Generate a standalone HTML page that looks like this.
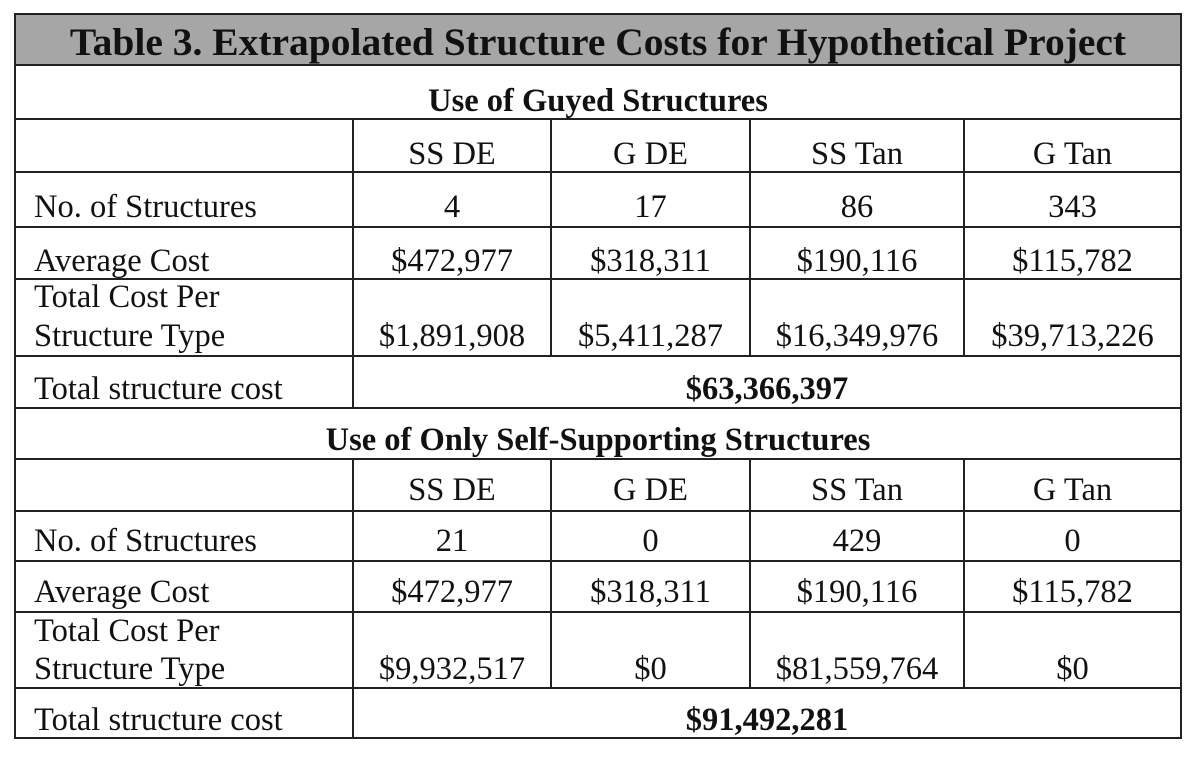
<!DOCTYPE html>
<html><head><style>
body{margin:0;width:1200px;height:764px;background:#fff;position:relative;overflow:hidden;font-family:"Liberation Serif",serif;color:#111}
.h{position:absolute;height:2px;background:#222}
.v{position:absolute;width:2px;background:#222}
.t{position:absolute;font-size:32.5px;line-height:30px;white-space:nowrap}
.c{text-align:center}
.b{font-weight:bold}
</style></head><body>
<div style="position:absolute;left:15px;top:14px;width:1166px;height:50px;background:#a6a6a6"></div>
<div class="h" style="left:15px;top:13px;width:1167px"></div>
<div class="h" style="left:15px;top:64px;width:1167px"></div>
<div class="h" style="left:15px;top:118px;width:1167px"></div>
<div class="h" style="left:15px;top:171px;width:1167px"></div>
<div class="h" style="left:15px;top:226px;width:1167px"></div>
<div class="h" style="left:15px;top:278px;width:1167px"></div>
<div class="h" style="left:15px;top:355px;width:1167px"></div>
<div class="h" style="left:15px;top:407px;width:1167px"></div>
<div class="h" style="left:15px;top:458px;width:1167px"></div>
<div class="h" style="left:15px;top:510px;width:1167px"></div>
<div class="h" style="left:15px;top:560px;width:1167px"></div>
<div class="h" style="left:15px;top:611px;width:1167px"></div>
<div class="h" style="left:15px;top:687px;width:1167px"></div>
<div class="h" style="left:15px;top:737px;width:1167px"></div>
<div class="v" style="left:14px;top:13px;height:726px"></div>
<div class="v" style="left:1180px;top:13px;height:726px"></div>
<div class="v" style="left:352px;top:118px;height:289px"></div>
<div class="v" style="left:550px;top:118px;height:237px"></div>
<div class="v" style="left:749px;top:118px;height:237px"></div>
<div class="v" style="left:963px;top:118px;height:237px"></div>
<div class="v" style="left:352px;top:458px;height:280px"></div>
<div class="v" style="left:550px;top:458px;height:229px"></div>
<div class="v" style="left:749px;top:458px;height:229px"></div>
<div class="v" style="left:963px;top:458px;height:229px"></div>

<div class="t c b" style="left:15px;width:1166px;top:21px;font-size:39.5px;line-height:42px">Table 3. Extrapolated Structure Costs for Hypothetical Project</div>
<div class="t c b" style="left:15px;width:1166px;top:86px;font-size:32.5px">Use of Guyed Structures</div>
<div class="t c b" style="left:15px;width:1166px;top:425px;font-size:32.5px">Use of Only Self-Supporting Structures</div>

<div class="t c" style="left:353px;width:198px;top:139px">SS DE</div>
<div class="t c" style="left:551px;width:199px;top:139px">G DE</div>
<div class="t c" style="left:750px;width:214px;top:139px">SS Tan</div>
<div class="t c" style="left:964px;width:217px;top:139px">G Tan</div>
<div class="t" style="left:34px;top:192px">No. of Structures</div>
<div class="t c" style="left:353px;width:198px;top:192px">4</div>
<div class="t c" style="left:551px;width:199px;top:192px">17</div>
<div class="t c" style="left:750px;width:214px;top:192px">86</div>
<div class="t c" style="left:964px;width:217px;top:192px">343</div>
<div class="t" style="left:34px;top:246px">Average Cost</div>
<div class="t c" style="left:353px;width:198px;top:246px">$472,977</div>
<div class="t c" style="left:551px;width:199px;top:246px">$318,311</div>
<div class="t c" style="left:750px;width:214px;top:246px">$190,116</div>
<div class="t c" style="left:964px;width:217px;top:246px">$115,782</div>
<div class="t" style="left:34px;top:282px">Total Cost Per</div>
<div class="t" style="left:34px;top:321px">Structure Type</div>
<div class="t c" style="left:353px;width:198px;top:321px">$1,891,908</div>
<div class="t c" style="left:551px;width:199px;top:321px">$5,411,287</div>
<div class="t c" style="left:750px;width:214px;top:321px">$16,349,976</div>
<div class="t c" style="left:964px;width:217px;top:321px">$39,713,226</div>
<div class="t" style="left:34px;top:374px">Total structure cost</div>
<div class="t c b" style="left:353px;width:828px;top:374px">$63,366,397</div>

<div class="t c" style="left:353px;width:198px;top:475px">SS DE</div>
<div class="t c" style="left:551px;width:199px;top:475px">G DE</div>
<div class="t c" style="left:750px;width:214px;top:475px">SS Tan</div>
<div class="t c" style="left:964px;width:217px;top:475px">G Tan</div>
<div class="t" style="left:34px;top:526px">No. of Structures</div>
<div class="t c" style="left:353px;width:198px;top:526px">21</div>
<div class="t c" style="left:551px;width:199px;top:526px">0</div>
<div class="t c" style="left:750px;width:214px;top:526px">429</div>
<div class="t c" style="left:964px;width:217px;top:526px">0</div>
<div class="t" style="left:34px;top:577px">Average Cost</div>
<div class="t c" style="left:353px;width:198px;top:577px">$472,977</div>
<div class="t c" style="left:551px;width:199px;top:577px">$318,311</div>
<div class="t c" style="left:750px;width:214px;top:577px">$190,116</div>
<div class="t c" style="left:964px;width:217px;top:577px">$115,782</div>
<div class="t" style="left:34px;top:616px">Total Cost Per</div>
<div class="t" style="left:34px;top:654px">Structure Type</div>
<div class="t c" style="left:353px;width:198px;top:654px">$9,932,517</div>
<div class="t c" style="left:551px;width:199px;top:654px">$0</div>
<div class="t c" style="left:750px;width:214px;top:654px">$81,559,764</div>
<div class="t c" style="left:964px;width:217px;top:654px">$0</div>
<div class="t" style="left:34px;top:705px">Total structure cost</div>
<div class="t c b" style="left:353px;width:828px;top:705px">$91,492,281</div>
</body></html>
